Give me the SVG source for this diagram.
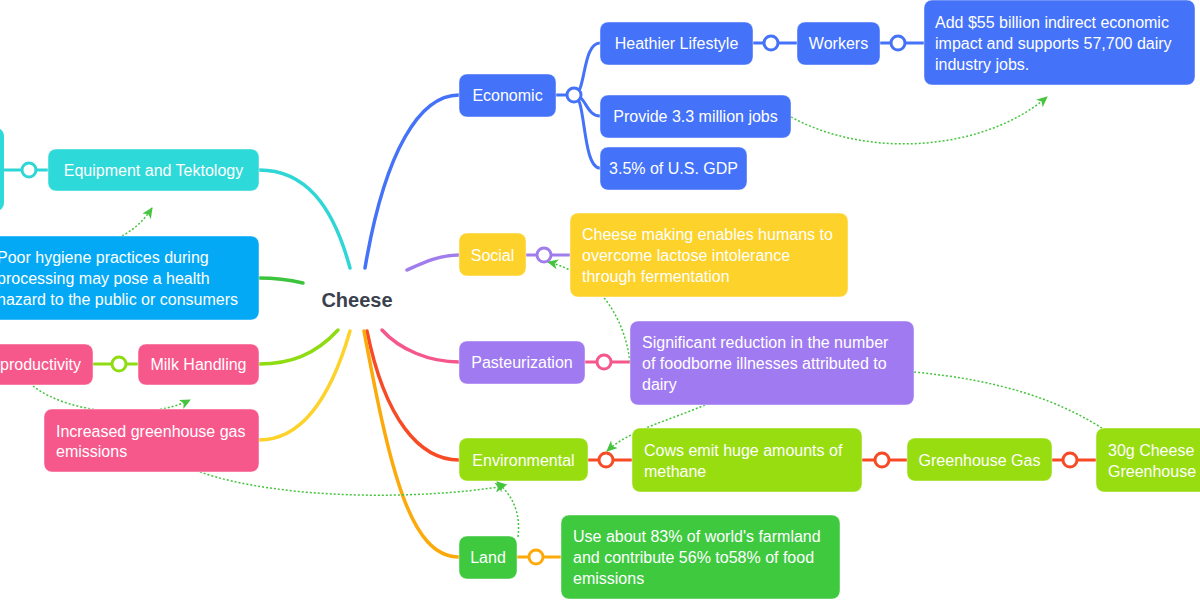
<svg xmlns="http://www.w3.org/2000/svg" width="1200" height="600" viewBox="0 0 1200 600">
<defs>
<style>
.t{font-family:"Liberation Sans",Arial,sans-serif;font-size:16px;fill:#fff}
.c{text-anchor:middle}
.b{stroke:#ffffff;stroke-opacity:.45;stroke-width:1}
.ln{fill:none;stroke-width:3.5;stroke-linecap:round}
.dot{fill:#fff;stroke-width:3}
.rel{fill:none;stroke:#45c43d;stroke-width:1.5;stroke-dasharray:2 2}
</style>
<marker id="ah" markerWidth="12" markerHeight="10" refX="10" refY="5" orient="auto" markerUnits="userSpaceOnUse">
<path d="M0,0 L11,5 L0,10 L3,5 Z" fill="#45c43d"/>
</marker>
</defs>
<rect width="1200" height="600" fill="#ffffff"/>

<g id="connectors">
<path class="ln" stroke="#2fd6d6" d="M350,268 C333,205 305,170 259,170"/>
<path class="ln" stroke="#4472f8" d="M365,268 C385,150 420,95 459,95"/>
<path class="ln" stroke="#a07ded" d="M407,270 C425,262 440,255 459,255"/>
<path class="ln" stroke="#3cc43c" d="M303,283 C290,280 275,278 259,278"/>
<path class="ln" stroke="#8fdc13" d="M338,330 C315,355 290,364 259,364"/>
<path class="ln" stroke="#fdd22a" d="M350,331 C330,400 300,440 259,440"/>
<path class="ln" stroke="#f5578b" d="M382,330 C400,350 430,362 459,362"/>
<path class="ln" stroke="#f74a25" d="M367,331 C385,420 420,460 459,460"/>
<path class="ln" stroke="#fcaa0b" d="M364,331 C390,470 410,557 459,557"/>

<g fill="none" stroke-width="3">
<path stroke="#4472f8" d="M556,95 L574,95 M574,95 C586,95 582,43 600,43 M574,95 C586,95 586,116 600,116 M574,95 C586,95 582,168 600,168 M753,43 L797,43 M880,43 L924,43"/>
<path stroke="#a07ded" d="M526,255 L570,255"/>
<path stroke="#f5578b" d="M585,362 L630,362"/>
<path stroke="#f74a25" d="M588,460 L632,460 M862,460 L907,460 M1052,460 L1096,460"/>
<path stroke="#fcaa0b" d="M517,557 L561,557"/>
<path stroke="#2fd6d6" d="M4,170 L48,170"/>
<path stroke="#8fdc13" d="M93,364 L138,364"/>
</g>

<path class="rel" marker-end="url(#ah)" d="M791,117 C870,160 985,150 1047,97"/>
<path class="rel" marker-end="url(#ah)" d="M122,236 C135,229 145,219 152,208"/>
<path class="rel" marker-end="url(#ah)" d="M33,386 C70,415 150,420 190,400"/>
<path class="rel" marker-end="url(#ah)" d="M200,472 C280,500 420,500 505,486"/>
<path class="rel" marker-end="url(#ah)" d="M518,537 C521,512 512,495 497,482"/>
<path class="rel" marker-end="url(#ah)" d="M630,362 C625,320 600,275 548,262"/>
<path class="rel" marker-end="url(#ah)" d="M705,405 C670,420 630,430 607,451"/>
<path class="rel" d="M914,372 C1000,380 1060,400 1108,432"/>

<g class="dot">
<circle cx="574" cy="95" r="7" stroke="#4472f8"/>
<circle cx="771" cy="43" r="7" stroke="#4472f8"/>
<circle cx="898" cy="43" r="7" stroke="#4472f8"/>
<circle cx="544" cy="255" r="7" stroke="#a07ded"/>
<circle cx="604" cy="362" r="7" stroke="#f5578b"/>
<circle cx="606" cy="460" r="7" stroke="#f74a25"/>
<circle cx="882" cy="460" r="7" stroke="#f74a25"/>
<circle cx="1070" cy="460" r="7" stroke="#f74a25"/>
<circle cx="536" cy="557" r="7" stroke="#fcaa0b"/>
<circle cx="29" cy="170" r="7" stroke="#2fd6d6"/>
<circle cx="119" cy="364" r="7" stroke="#8fdc13"/>
</g>
</g>

<g id="n-cheese"><text x="357" y="307" text-anchor="middle" font-family="Liberation Sans,Arial,sans-serif" font-size="20" font-weight="bold" fill="#3a414d">Cheese</text></g>

<g id="n-economic"><rect class="b" x="459" y="74" width="97" height="43" rx="8" fill="#4472f8"/><text class="t c" x="507.5" y="101">Economic</text></g>
<g id="n-lifestyle"><rect class="b" x="600" y="22" width="153" height="43" rx="8" fill="#4472f8"/><text class="t c" x="676.5" y="49">Heathier Lifestyle</text></g>
<g id="n-workers"><rect class="b" x="797" y="22" width="83" height="43" rx="8" fill="#4472f8"/><text class="t c" x="838.5" y="49">Workers</text></g>
<g id="n-add55"><rect class="b" x="924" y="0" width="271" height="85" rx="8" fill="#4472f8"/><text class="t" x="935" y="28">Add $55 billion indirect economic</text><text class="t" x="935" y="49">impact and supports 57,700 dairy</text><text class="t" x="935" y="70">industry jobs.</text></g>
<g id="n-jobs"><rect class="b" x="600" y="95" width="191" height="43" rx="8" fill="#4472f8"/><text class="t c" x="695.5" y="122">Provide 3.3 million jobs</text></g>
<g id="n-gdp"><rect class="b" x="600" y="147" width="147" height="43" rx="8" fill="#4472f8"/><text class="t c" x="673.5" y="174">3.5% of U.S. GDP</text></g>

<g id="n-social"><rect class="b" x="459" y="233" width="67" height="43" rx="8" fill="#fdd22a"/><text class="t c" x="492.5" y="261">Social</text></g>
<g id="n-lactose"><rect class="b" x="570" y="213" width="278" height="84" rx="8" fill="#fdd22a"/><text class="t" x="582" y="240">Cheese making enables humans to</text><text class="t" x="582" y="261">overcome lactose intolerance</text><text class="t" x="582" y="282">through fermentation</text></g>

<g id="n-pasteurization"><rect class="b" x="459" y="341" width="126" height="43" rx="8" fill="#a07af0"/><text class="t c" x="522" y="368">Pasteurization</text></g>
<g id="n-reduction"><rect class="b" x="630" y="321" width="284" height="84" rx="8" fill="#a07af0"/><text class="t" x="642" y="348">Significant reduction in the number</text><text class="t" x="642" y="369">of foodborne illnesses attributed to</text><text class="t" x="642" y="390">dairy</text></g>

<g id="n-environmental"><rect class="b" x="459" y="438" width="129" height="43" rx="8" fill="#97dd10"/><text class="t c" x="523.5" y="466">Environmental</text></g>
<g id="n-cows"><rect class="b" x="632" y="428" width="230" height="64" rx="8" fill="#97dd10"/><text class="t" x="644" y="456">Cows emit huge amounts of</text><text class="t" x="644" y="477">methane</text></g>
<g id="n-ghg"><rect class="b" x="907" y="438" width="145" height="43" rx="8" fill="#97dd10"/><text class="t c" x="979.5" y="466">Greenhouse Gas</text></g>
<g id="n-30g"><rect class="b" x="1096" y="428" width="140" height="64" rx="8" fill="#97dd10"/><text class="t" x="1108" y="456">30g Cheese</text><text class="t" x="1108" y="477">Greenhouse</text></g>

<g id="n-land"><rect class="b" x="459" y="536" width="58" height="43" rx="8" fill="#3ec93f"/><text class="t c" x="488" y="563">Land</text></g>
<g id="n-farmland"><rect class="b" x="561" y="515" width="279" height="84" rx="8" fill="#3ec93f"/><text class="t" x="573" y="542">Use about 83% of world's farmland</text><text class="t" x="573" y="563">and contribute 56% to58% of food</text><text class="t" x="573" y="584">emissions</text></g>

<g id="n-equipment"><rect class="b" x="48" y="149" width="211" height="42" rx="8" fill="#2ed9d9"/><text class="t c" x="153.5" y="176">Equipment and Tektology</text></g>
<g id="n-equip-child"><rect x="-20" y="128" width="24" height="83" rx="8" fill="#2ed9d9"/></g>
<g id="n-hygiene"><rect class="b" x="-20" y="236" width="279" height="84" rx="8" fill="#03a9f4"/><text class="t" x="-3" y="263">Poor hygiene practices during</text><text class="t" x="-3" y="284">processing may pose a health</text><text class="t" x="-3" y="305">hazard to the public or consumers</text></g>
<g id="n-productivity"><rect class="b" x="-60" y="344" width="153" height="41" rx="8" fill="#f7588c"/><text class="t" x="81" y="370" text-anchor="end">productivity</text></g>
<g id="n-milk"><rect class="b" x="138" y="344" width="121" height="41" rx="8" fill="#f7588c"/><text class="t c" x="198.5" y="370">Milk Handling</text></g>
<g id="n-increased"><rect class="b" x="44" y="409" width="215" height="63" rx="8" fill="#f7588c"/><text class="t" x="56" y="437">Increased greenhouse gas</text><text class="t" x="56" y="457">emissions</text></g>
</svg>
